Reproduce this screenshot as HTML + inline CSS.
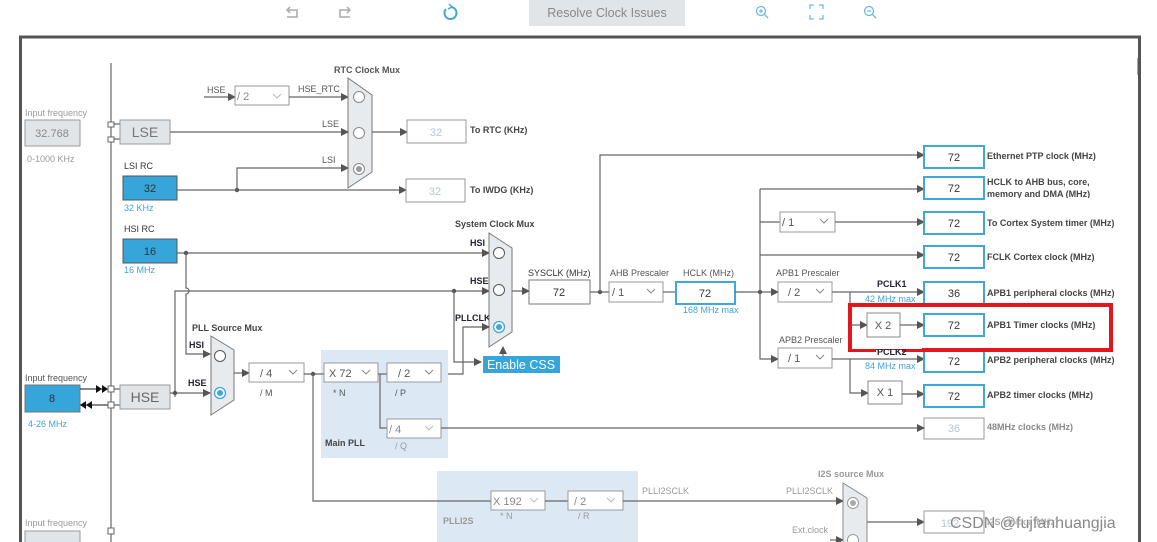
<!DOCTYPE html>
<html><head><meta charset="utf-8"><style>
html,body{margin:0;padding:0;background:#fff;width:1157px;height:542px;overflow:hidden;}
svg{display:block;font-family:"Liberation Sans",Arial,sans-serif;}
.l{font-size:9px;fill:#555;}
.b{font-size:9px;fill:#444;font-weight:bold;}
.bl{font-size:9px;fill:#3ea3d8;}
.v{font-size:11px;fill:#333;text-anchor:middle;}
.vg{font-size:11px;fill:#b8c4d0;text-anchor:middle;}
.w{stroke:#666;stroke-width:1.2;fill:none;}
.dd{fill:#fff;stroke:#999;stroke-width:1;}
.ob{fill:#fff;stroke:#3ea7dd;stroke-width:2;}
</style></head><body>
<svg width="1157" height="542" viewBox="0 0 1157 542" overflow="hidden">
<defs>
<marker id="a" markerWidth="8" markerHeight="8" refX="7" refY="4" orient="auto" markerUnits="userSpaceOnUse"><path d="M0,0 L8,4 L0,8 z" fill="#555"/></marker>
<clipPath id="c"><rect x="0" y="0" width="1157" height="542"/></clipPath>
</defs>
<g stroke="#aaa" stroke-width="1.5" fill="none">
<path d="M287,10 h10 v7 h-10 M290,7 l-3,3 l3,3"/>
<path d="M350,10 h-10 v7 h10 M347,7 l3,3 l-3,3"/>
</g>
<path d="M446,9 a6,6 0 1 0 5,-2" stroke="#3ea7dd" stroke-width="2" fill="none"/>
<path d="M449,4 l3,3 l-4,2" stroke="#3ea7dd" stroke-width="1.5" fill="none"/>
<rect x="529" y="0" width="156" height="26" fill="#e2e5e8"/>
<text x="607" y="17" font-size="12.5" fill="#888" text-anchor="middle">Resolve Clock Issues</text>
<g stroke="#6fb8e6" stroke-width="1.3" fill="none">
<circle cx="761" cy="11" r="4.5"/><path d="M764,14 l4,4 M759,11 h4 M761,9 v4"/>
<path d="M810,9 v-4 h4 M819,5 h4 v4 M823,15 v4 h-4 M814,19 h-4 v-4"/>
<circle cx="869" cy="11" r="4.5"/><path d="M872,14 l4,4 M867,11 h4"/>
</g>
<path d="M20.5,542 V37 H1139.5 V542" fill="none" stroke="#555" stroke-width="3"/>
<line x1="1138" y1="58" x2="1138" y2="75" stroke="#555" stroke-width="1"/>
<line x1="111" y1="63" x2="111" y2="542" stroke="#666" stroke-width="1.2"/>

<text x="25" y="116" class="l" style="fill:#999">Input frequency</text>
<rect x="25" y="120" width="55" height="26" fill="#e2e5e8" stroke="#999"/>
<text x="52" y="137" class="v" style="fill:#888">32.768</text>
<text x="27" y="162" class="l" style="fill:#999">0-1000 KHz</text>
<rect x="108" y="122" width="6" height="5" fill="#fff" stroke="#666"/>
<rect x="108" y="137" width="6" height="5" fill="#fff" stroke="#666"/>
<path class="w" d="M114,124 h6 M114,139 h6"/>
<rect x="120" y="120" width="50" height="24" fill="#e2e5e8" stroke="#999"/>
<text x="145" y="137" font-size="14" fill="#777" text-anchor="middle">LSE</text>

<text x="207" y="93" class="l">HSE</text>
<line x1="204" y1="97" x2="235" y2="97" class="w" marker-end="url(#a)"/>
<rect x="235" y="86" width="54" height="19" class="dd"/>
<text x="237" y="100" font-size="11" fill="#888">/ 2</text>
<path d="M273,94 l4,4 l4,-4" stroke="#bbb" fill="none"/>
<text x="298" y="92" class="l">HSE_RTC</text>
<line x1="289" y1="97" x2="348" y2="97" class="w" marker-end="url(#a)"/>
<text x="334" y="73" class="l" font-weight="bold">RTC Clock Mux</text>
<path d="M348,78 L372,95 L372,172 L348,188 Z" fill="#e8ebee" stroke="#777"/>
<circle cx="359" cy="97" r="5.5" fill="#fff" stroke="#888"/>
<circle cx="359" cy="133" r="5.5" fill="#fff" stroke="#888"/>
<circle cx="359" cy="169" r="5.5" fill="#fff" stroke="#888"/><circle cx="359" cy="169" r="3" fill="#999"/>
<text x="322" y="127" class="l">LSE</text>
<line x1="170" y1="132" x2="348" y2="132" class="w" marker-end="url(#a)"/>
<line x1="372" y1="132" x2="407" y2="132" class="w" marker-end="url(#a)"/>
<rect x="407" y="120" width="59" height="23" fill="#fff" stroke="#999"/>
<text x="436" y="136" class="vg">32</text>
<text x="470" y="133" class="b">To RTC (KHz)</text>

<text x="124" y="169" class="l" style="fill:#333">LSI RC</text>
<rect x="123" y="176" width="54" height="24" fill="#35a5da" stroke="#555"/>
<text x="150" y="192" class="v">32</text>
<text x="124" y="211" class="bl">32 KHz</text>
<line x1="177" y1="190" x2="406" y2="190" class="w" marker-end="url(#a)"/>
<circle cx="237" cy="190" r="2.2" fill="#555"/>
<path class="w" d="M237,190 V168 H348" marker-end="url(#a)"/>
<text x="322" y="163" class="l">LSI</text>
<rect x="406" y="179" width="59" height="23" fill="#fff" stroke="#999"/>
<text x="435" y="195" class="vg">32</text>
<text x="470" y="193" class="b">To IWDG (KHz)</text>

<text x="124" y="232" class="l" style="fill:#333">HSI RC</text>
<rect x="123" y="239" width="54" height="24" fill="#35a5da" stroke="#555"/>
<text x="150" y="255" class="v">16</text>
<text x="124" y="273" class="bl">16 MHz</text>
<line x1="177" y1="253" x2="489" y2="253" class="w" marker-end="url(#a)"/>
<circle cx="186" cy="253" r="2.2" fill="#555"/>
<path class="w" d="M186,253 V288 a3,3 0 0 1 0,6 V354 H210" marker-end="url(#a)"/>
<path class="w" d="M175,397 V291 H489" marker-end="url(#a)"/>

<text x="455" y="227" class="l" font-weight="bold" style="fill:#444">System Clock Mux</text>
<text x="470" y="246" class="b" style="fill:#223">HSI</text>
<text x="470" y="284" class="b" style="fill:#223">HSE</text>
<text x="455" y="321" class="b" style="fill:#223">PLLCLK</text>
<path d="M489,233 L512,248 L512,332 L489,347 Z" fill="#e8ebee" stroke="#777"/>
<circle cx="499" cy="253" r="5.5" fill="#fff" stroke="#555"/>
<circle cx="499" cy="290" r="5.5" fill="#fff" stroke="#555"/>
<circle cx="499" cy="327" r="5.5" fill="#fff" stroke="#3ea7dd" stroke-width="1.3"/><circle cx="499" cy="327" r="3" fill="#3ea7dd"/>
<circle cx="454" cy="291" r="2.2" fill="#555"/>
<path class="w" d="M454,291 V362 H481" marker-end="url(#a)"/>
<path class="w" d="M441,374 H463 V327 H489" marker-end="url(#a)"/>
<rect x="483" y="356" width="77" height="17" fill="#35a5da"/>
<text x="521" y="369" font-size="12.5" fill="#fff" text-anchor="middle">Enable CSS</text>
<line x1="503" y1="356" x2="503" y2="347" class="w" marker-end="url(#a)"/>
<line x1="512" y1="291" x2="529" y2="291" class="w" marker-end="url(#a)"/>
<text x="528" y="276" class="l" style="fill:#333">SYSCLK (MHz)</text>
<rect x="529" y="280" width="61" height="24" fill="#fff" stroke="#777"/>
<text x="559" y="296" class="v">72</text>
<line x1="590" y1="292" x2="609" y2="292" class="w"/>
<circle cx="600" cy="292" r="2.2" fill="#555"/>
<path class="w" d="M600,292 V155 H924" marker-end="url(#a)"/>
<text x="610" y="276" class="l">AHB Prescaler</text>
<rect x="609" y="282" width="54" height="20" class="dd"/>
<text x="612" y="296" font-size="11" fill="#555">/ 1</text>
<path d="M647,289 l4,4 l4,-4" stroke="#888" fill="none"/>
<line x1="663" y1="292" x2="676" y2="292" class="w"/>
<text x="683" y="276" class="l">HCLK (MHz)</text>
<rect x="676" y="282" width="59" height="22" class="ob"/>
<text x="705" y="297" class="v">72</text>
<text x="683" y="313" class="bl">168 MHz max</text>
<line x1="735" y1="292" x2="778" y2="292" class="w" marker-end="url(#a)"/>
<circle cx="760" cy="292" r="2.2" fill="#555"/>
<path class="w" d="M760,189 V359 H778" marker-end="url(#a)"/>
<line x1="760" y1="189" x2="924" y2="189" class="w" marker-end="url(#a)"/>
<line x1="760" y1="222" x2="780" y2="222" class="w"/>
<rect x="780" y="212" width="55" height="20" class="dd"/>
<text x="782" y="226" font-size="11" fill="#555">/ 1</text>
<path d="M820,219 l4,4 l4,-4" stroke="#888" fill="none"/>
<line x1="835" y1="222" x2="924" y2="222" class="w" marker-end="url(#a)"/>
<line x1="760" y1="255" x2="924" y2="255" class="w" marker-end="url(#a)"/>
<text x="776" y="276" class="l">APB1 Prescaler</text>
<rect x="778" y="282" width="54" height="20" class="dd"/>
<text x="788" y="296" font-size="11" fill="#555">/ 2</text>
<path d="M816,289 l4,4 l4,-4" stroke="#888" fill="none"/>
<line x1="832" y1="292" x2="924" y2="292" class="w" marker-end="url(#a)"/>
<text x="877" y="287" class="b" style="fill:#223">PCLK1</text>
<text x="865" y="302" class="bl">42 MHz max</text>
<path class="w" d="M850,292 V325 H867" marker-end="url(#a)"/>
<rect x="867" y="313" width="33" height="24" fill="#fff" stroke="#888"/>
<text x="883" y="329" class="v" style="fill:#555">X 2</text>
<line x1="900" y1="325" x2="924" y2="325" class="w" marker-end="url(#a)"/>
<text x="779" y="343" class="l">APB2 Prescaler</text>
<rect x="778" y="348" width="54" height="20" class="dd"/>
<text x="788" y="362" font-size="11" fill="#555">/ 1</text>
<path d="M816,355 l4,4 l4,-4" stroke="#888" fill="none"/>
<line x1="832" y1="359" x2="924" y2="359" class="w" marker-end="url(#a)"/>
<text x="865" y="369" class="bl">84 MHz max</text>
<path class="w" d="M850,359 V393 H868" marker-end="url(#a)"/>
<rect x="868" y="381" width="34" height="23" fill="#fff" stroke="#888"/>
<text x="885" y="396" class="v" style="fill:#555">X 1</text>
<line x1="902" y1="394" x2="924" y2="394" class="w" marker-end="url(#a)"/>

<rect x="924" y="146" width="60" height="22" class="ob"/><text x="954" y="161" class="v">72</text><text x="987" y="159" class="b">Ethernet PTP clock (MHz)</text>
<rect x="924" y="177" width="60" height="22" class="ob"/><text x="954" y="192" class="v">72</text><text x="987" y="185" class="b">HCLK to AHB bus, core,</text>
<svg x="987" y="188" width="120" height="10" overflow="hidden"><text x="0" y="9" class="b">memory and DMA (MHz)</text></svg>
<rect x="924" y="212" width="60" height="22" class="ob"/><text x="954" y="227" class="v">72</text><text x="987" y="226" class="b">To Cortex System timer (MHz)</text>
<rect x="924" y="246" width="60" height="22" class="ob"/><text x="954" y="261" class="v">72</text><text x="987" y="260" class="b">FCLK Cortex clock (MHz)</text>
<rect x="924" y="282" width="60" height="22" class="ob"/><text x="954" y="297" class="v">36</text><text x="987" y="296" class="b">APB1 peripheral clocks (MHz)</text>
<rect x="924" y="314" width="60" height="22" class="ob"/><text x="954" y="329" class="v">72</text><text x="987" y="328" class="b">APB1 Timer clocks (MHz)</text>
<rect x="924" y="350" width="60" height="22" class="ob"/><text x="954" y="365" class="v">72</text><text x="987" y="363" class="b">APB2 peripheral clocks (MHz)</text>
<rect x="924" y="385" width="60" height="22" class="ob"/><text x="954" y="400" class="v">72</text><text x="987" y="398" class="b">APB2 timer clocks (MHz)</text>
<rect x="924" y="418" width="60" height="21" fill="#fff" stroke="#999"/><text x="954" y="432" class="vg">36</text><text x="987" y="430" class="b" style="fill:#888">48MHz clocks (MHz)</text>
<rect x="850" y="305" width="261" height="45" fill="none" stroke="#e3161e" stroke-width="4"/>
<rect x="876" y="350" width="26" height="5" fill="#fff"/>
<text x="877" y="355" class="b" style="fill:#223">PCLK2</text>
<rect x="852" y="348" width="70" height="1" fill="#fff"/>

<text x="25" y="381" class="l">Input frequency</text>
<rect x="25" y="385" width="55" height="27" fill="#35a5da" stroke="#777"/>
<text x="52" y="402" class="v">8</text>
<text x="28" y="427" class="bl">4-26 MHz</text>
<line x1="80" y1="389" x2="108" y2="389" stroke="#111"/>
<path d="M96,385 l6,4 l-6,4z M102,385 l6,4 l-6,4z" fill="#111"/>
<line x1="80" y1="405" x2="108" y2="405" stroke="#111"/>
<path d="M80,405 l6,-4 v8z M86,405 l6,-4 v8z" fill="#111"/>
<rect x="108" y="386" width="6" height="6" fill="#fff" stroke="#666"/>
<rect x="108" y="402" width="6" height="6" fill="#fff" stroke="#666"/>
<path class="w" d="M114,389 h6 M114,405 h6"/>
<rect x="120" y="385" width="50" height="24" fill="#e2e5e8" stroke="#999"/>
<text x="145" y="402" font-size="14" fill="#666" text-anchor="middle">HSE</text>
<line x1="170" y1="393" x2="210" y2="393" class="w" marker-end="url(#a)"/>
<circle cx="175" cy="393" r="2.2" fill="#555"/>

<rect x="321" y="350" width="127" height="108" fill="#dce9f5"/>
<rect x="437" y="471" width="201" height="71" fill="#dce9f5"/>
<text x="192" y="331" class="l" font-weight="bold" style="fill:#444">PLL Source Mux</text>
<text x="189" y="348" class="b" style="fill:#223">HSI</text>
<text x="188" y="386" class="b" style="fill:#223">HSE</text>
<path d="M211,336 L234,350 L234,400 L211,415 Z" fill="#e8ebee" stroke="#777"/>
<circle cx="220" cy="356" r="5.5" fill="#fff" stroke="#555"/>
<circle cx="220" cy="393" r="5.5" fill="#fff" stroke="#3ea7dd" stroke-width="1.3"/><circle cx="220" cy="393" r="3" fill="#3ea7dd"/>
<line x1="234" y1="373" x2="249" y2="373" class="w" marker-end="url(#a)"/>
<rect x="249" y="363" width="55" height="19" class="dd"/>
<text x="260" y="377" font-size="11" fill="#555">/ 4</text>
<path d="M289,370 l4,4 l4,-4" stroke="#888" fill="none"/>
<text x="260" y="396" class="l">/ M</text>
<line x1="304" y1="374" x2="324" y2="374" class="w"/>
<circle cx="313" cy="374" r="2.2" fill="#555"/>
<rect x="324" y="363" width="54" height="19" class="dd"/>
<text x="329" y="377" font-size="11" fill="#555">X 72</text>
<path d="M362,370 l4,4 l4,-4" stroke="#888" fill="none"/>
<text x="333" y="396" class="l">* N</text>
<line x1="378" y1="374" x2="387" y2="374" class="w"/>
<rect x="387" y="363" width="54" height="19" class="dd"/>
<text x="398" y="377" font-size="11" fill="#555">/ 2</text>
<path d="M425,370 l4,4 l4,-4" stroke="#888" fill="none"/>
<text x="395" y="396" class="l">/ P</text>
<path class="w" d="M380,374 V428 H387"/>
<rect x="387" y="419" width="54" height="19" class="dd"/>
<text x="389" y="433" font-size="11" fill="#888">/ 4</text>
<path d="M425,426 l4,4 l4,-4" stroke="#bbb" fill="none"/>
<text x="395" y="449" class="l" style="fill:#999">/ Q</text>
<text x="325" y="446" class="b">Main PLL</text>
<line x1="441" y1="428" x2="924" y2="428" class="w" marker-end="url(#a)"/>

<path class="w" d="M313,374 V501 H491"/>
<rect x="491" y="491" width="54" height="19" class="dd"/>
<text x="493" y="505" font-size="11" fill="#888">X 192</text>
<path d="M530,498 l4,4 l4,-4" stroke="#bbb" fill="none"/>
<text x="500" y="519" class="l" style="fill:#999">* N</text>
<line x1="545" y1="501" x2="568" y2="501" class="w"/>
<rect x="568" y="491" width="55" height="19" class="dd"/>
<text x="574" y="505" font-size="11" fill="#888">/ 2</text>
<path d="M607,498 l4,4 l4,-4" stroke="#bbb" fill="none"/>
<text x="578" y="519" class="l" style="fill:#999">/ R</text>
<text x="443" y="524" class="b" style="fill:#999">PLLI2S</text>
<text x="642" y="494" class="l" style="fill:#999">PLLI2SCLK</text>
<line x1="623" y1="501" x2="843" y2="501" class="w" marker-end="url(#a)"/>
<text x="786" y="494" class="l" style="fill:#999">PLLI2SCLK</text>
<text x="818" y="477" class="l" font-weight="bold" style="fill:#999">I2S source Mux</text>
<text x="792" y="533" class="l" style="fill:#999">Ext.clock</text>
<line x1="830" y1="540" x2="843" y2="540" class="w" marker-end="url(#a)"/>
<g clip-path="url(#c)">
<path d="M843,542 V483 L867,498 V542" fill="#e8ebee" stroke="#888"/>
<circle cx="853" cy="503" r="5.5" fill="#fff" stroke="#999"/><circle cx="853" cy="503" r="3" fill="#aaa"/>
<circle cx="853" cy="540" r="5.5" fill="#fff" stroke="#999"/>
</g>
<line x1="867" y1="522" x2="924" y2="522" class="w" marker-end="url(#a)"/>
<rect x="924" y="511" width="60" height="22" fill="#fff" stroke="#999"/>
<text x="950" y="527" class="vg">192</text>
<text x="987" y="525" class="b" style="fill:#aaa">I2S clocks (MHz)</text>
<text x="950" y="528" font-size="16" fill="#888" stroke="#fff" stroke-width="0.6" paint-order="stroke">CSDN @fujfanhuangjia</text>

<text x="25" y="526" class="l" style="fill:#999">Input frequency</text>
<path d="M25,542 V531 H80 V542" fill="#e2e5e8" stroke="#999"/>
<rect x="108" y="528" width="6" height="6" fill="#fff" stroke="#666"/>
</svg>
</body></html>
